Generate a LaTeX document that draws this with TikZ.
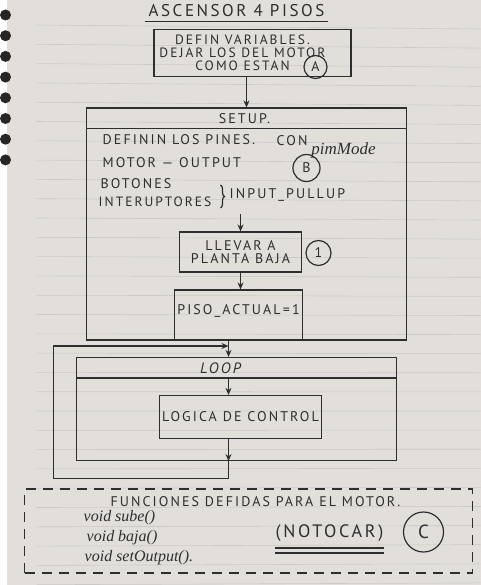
\documentclass[tikz,border=0pt]{standalone}
\usepackage{fontspec}
\setmainfont{PT Sans}
\newfontfamily\hand[LetterSpace=15]{PT Sans}
\newfontfamily\script{Liberation Serif}
\usetikzlibrary{arrows.meta,calc,decorations.pathreplacing}
\definecolor{paper}{HTML}{E2DFDA}
\definecolor{rulec}{HTML}{CBC9C6}
\definecolor{pencil}{HTML}{2E2E30}
\begin{document}
\begin{tikzpicture}[x=1pt,y=-1pt,
  every node/.style={text=pencil, font=\hand\fontsize{14}{13}\selectfont},
  box/.style={draw=pencil, line width=1.2pt, inner sep=0pt},
  ln/.style={draw=pencil, line width=1.2pt},
  arr/.style={ln, -{Stealth[length=7pt,width=6pt]}},
  circ/.style={circle, draw=pencil, line width=1.2pt, minimum size=24pt, inner sep=0pt, font=\hand\fontsize{14}{15}\selectfont},
  lbl/.style={anchor=west, inner sep=0pt},
  cursive/.style={font=\script\itshape\fontsize{16}{17}\selectfont},
]
% paper
\fill[paper] (0,0) rectangle (474,585);
\foreach \k in {0,...,29} \draw[rulec, line width=0.6pt] (30,{25+19.3*\k}) -- (474,{29+19.1*\k});
\foreach \k in {0,...,7} \fill[black!85] (-1,{15+20.7*\k}) circle (5.5);
\useasboundingbox (0,0) rectangle (474,585);

% title
\node[font=\hand\fontsize{17}{18}\selectfont] (title) at (230,11) {ASCENSOR 4 PISOS};
\draw[ln] ($(title.south west)+(0,1)$) -- ($(title.south east)+(0,1)$);

% definitions box
\node[box, minimum width=197pt, minimum height=47pt] (defs) at (246,53) {};
\node[align=center, font=\hand\fontsize{13.5}{13}\selectfont] (defstxt) at (236,53) {DEFIN VARIABLES.\\DEJAR LOS DEL MOTOR\\COMO ESTAN};
\node[circ, minimum size=23pt] (cA) at (309,67) {A};

% setup
\node[box, minimum width=320pt, minimum height=232pt] (setup) at (240,224) {};
\draw[ln] ($(setup.north west)+(0,21)$) -- ($(setup.north east)+(0,21)$);
\node (setuptxt) at (238,119) {SETUP.};
\draw[arr] (defs.south -| setup.north) -- (setup.north);

\node[lbl] (pins) at (96,140) {DEFININ LOS PINES.};
\node[lbl] (con) at (270,141) {CON};
\node[font=\script\itshape\fontsize{17}{18}\selectfont] (pm) at (337,150) {pimMode};
\node[lbl] (motor) at (96,163) {MOTOR — OUTPUT};
\node[circ, minimum size=27pt] (cB) at (300,168) {B};
\node[lbl] (bot) at (94,184) {BOTONES};
\node[lbl, font=\hand\fontsize{13.5}{13}\selectfont] (intr) at (92,202) {INTERUPTORES};
\draw[ln, decorate, decoration={brace, amplitude=4pt}] (214,185) -- (214,208);
\node[lbl, font=\hand\fontsize{14}{15}\selectfont] (inp) at (223,195) {INPUT\_PULLUP};

\node[box, minimum width=122pt, minimum height=40pt, align=center] (llevar) at (234,252) {LLEVAR A\\PLANTA BAJA};
\coordinate (c1) at (234,214);
\draw[arr] (c1) -- (llevar.north);
\node[circ, minimum size=25pt] (c1n) at (312,253) {1};

\node[box, minimum width=128pt, minimum height=50pt] (piso) at (232,315) {};
\node (pisotxt) at (232,311) {PISO\_ACTUAL=1};
\draw[arr] (llevar.south) -- (llevar.south |- piso.north);

% loop
\coordinate (j) at (222,346);
\node[box, minimum width=320pt, minimum height=103pt] (loop) at (230,409) {};
\draw[ln] ($(loop.north west)+(0,21)$) -- ($(loop.north east)+(0,21)$);
\node[font=\hand\itshape\fontsize{15}{16}\selectfont] (looptxt) at (214,368) {LOOP};
\draw[ln] (setup.south -| j) -- (j);
\draw[arr] (j) -- (j |- loop.north);
\node[box, minimum width=162pt, minimum height=43pt] (logica) at (234,417) {LOGICA DE CONTROL};
\draw[arr] ($(loop.north -| j)+(0,21)$) -- (j |- logica.north);
\draw[arr] (logica.south -| j) -- (j |- loop.south);
\draw[arr] (j |- loop.south) -- ++(0,17) -| (47,346) -- (j);

% functions
\node[draw=pencil, line width=1.1pt, dash pattern=on 10pt off 7pt, minimum width=448pt, minimum height=84pt] (funcs) at (242,531) {};
\node (ftitle) at (249,502) {FUNCIONES DEFIDAS PARA EL MOTOR.};
\node[lbl, cursive] (v1) at (77,518) {void sube()};
\node[lbl, cursive] (v2) at (80,538) {void baja()};
\node[lbl, cursive] (v3) at (78,558) {void setOutput().};
\node[font=\hand\fontsize{18}{19}\selectfont] (nt) at (323,533) {(NOTOCAR)};
\draw[ln] ($(nt.south west)+(3,3)$) -- ($(nt.south east)+(-3,3)$);
\draw[ln] ($(nt.south west)+(3,8)$) -- ($(nt.south east)+(-3,8)$);
\node[circ, minimum size=40pt, font=\hand\fontsize{19}{20}\selectfont] (cC) at (417,532) {C};
\end{tikzpicture}
\end{document}
